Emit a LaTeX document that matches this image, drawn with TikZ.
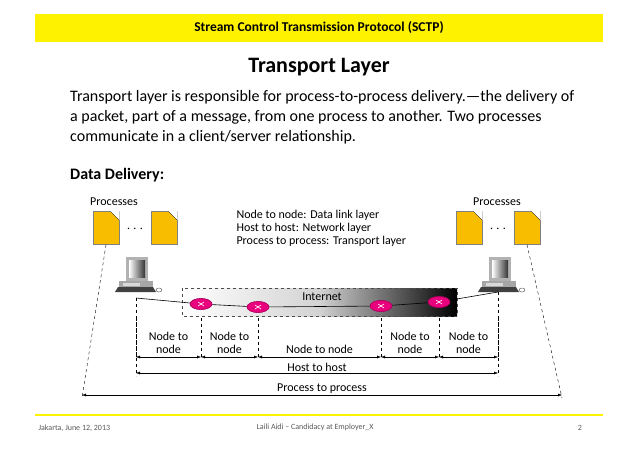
\documentclass[tikz,border=0pt]{standalone}
\usepackage{fontspec}
\setmainfont{Carlito}
\usetikzlibrary{arrows.meta,positioning,shapes.geometric}
\definecolor{slideyellow}{HTML}{FFF200}
\definecolor{docyellow}{HTML}{F9BD00}
\definecolor{routerpink}{HTML}{E8007D}

\begin{document}
\begin{tikzpicture}[
    x = 1pt, y = -1pt,
    >= {Latex[length=4pt,width=3pt]},
    doc/.style = {draw = gray, fill = docyellow, minimum width = 26pt, minimum height = 33pt, inner sep = 0pt},
    router/.style = {ellipse, draw = routerpink!70!black, fill = routerpink, minimum width = 22pt, minimum height = 11pt, inner sep = 0pt},
    lbl/.style = {font = \fontsize{12}{13}\selectfont, align = center},
    vdash/.style = {dashed, thin},
    span/.style = {<->, thin}
    ]
    \useasboundingbox (0,0) rectangle (638,451);

    % header and footer
    \fill[slideyellow] (35,14) rectangle (603,42);
    \node[font = \bfseries\fontsize{13.5}{15}\selectfont] (head) at (319,28) {Stream Control Transmission Protocol (SCTP)};
    \node[font = \bfseries\fontsize{22}{24}\selectfont] (title) at (319,67) {Transport Layer};
    \node[anchor = north west, align = left, font = \fontsize{16}{20}\selectfont, inner sep = 0pt] (para) at (70,90)
      {Transport layer is responsible for process-to-process delivery.—the delivery of\\
       a packet, part of a message, from one process to another. Two processes\\
       communicate in a client/server relationship.};
    \node[anchor = west, font = \bfseries\fontsize{16}{18}\selectfont, inner sep = 0pt] (dd) at (70,175) {Data Delivery:};
    \draw[slideyellow, line width = 2pt] (35,415) -- (603,415);
    \node[anchor = west, font = \fontsize{8}{9}\selectfont, text = gray!70!black] (date) at (35,428) {Jakarta, June 12, 2013};
    \node[font = \fontsize{8}{9}\selectfont, text = gray!70!black] (who) at (315,427) {Laili Aidi – Candidacy at Employer\_X};
    \node[font = \fontsize{8}{9}\selectfont, text = gray!70!black] (page) at (580,428) {2};

    % processes
    \foreach \n/\x in {d1/106, d2/164, d3/469, d4/527} {
      \node[doc] (\n) at (\x,228) {};
      \fill[black] (\n.north east) ++(-9,0) -- ++(9,9) -- ++(0,-9) -- cycle;
      \fill[white] (\n.north east) ++(-9,-0.5) -- ++(9.5,0) -- ++(0,9.5) -- cycle;
    }
    \node[lbl] (pl) at (114,202) {Processes};
    \node[lbl] (pr) at (497,202) {Processes};
    \node[font = \Large\bfseries] (dl) at (135,229) {$\cdots$};
    \node[font = \Large\bfseries] (dr) at (498,229) {$\cdots$};

    \node[lbl, anchor = west, align = left] (legend) at (233,228)
      {Node to node: Data link layer\\ Host to host: Network layer\\ Process to process: Transport layer};

    % computers
    \foreach \n/\x in {pc1/140, pc2/503} {
      \coordinate (\n) at (\x,292);
      \fill[gray!60] (\x-14,257) rectangle (\x+8,281);
      \shade[left color = white, right color = gray!40!black] (\x-11,260) rectangle (\x+5,277);
      \fill[gray!70] (\x-21,281) rectangle (\x+13,287);
      \fill[gray!30] (\x-17,282.5) rectangle (\x,285.5);
      \fill[gray!50!black] (\x-22,287) -- (\x+13,287) -- (\x+16,292) -- (\x-25,292) -- cycle;
      \draw[gray!60!black] (\x+19,290) ellipse (3 and 2);
    }
    \coordinate (h1) at (136,298);
    \coordinate (h2) at (498,292);

    % internet
    \shade[left color = white, right color = black, middle color = gray!35] (182,288) rectangle (457,316);
    \draw[dashed, thick, gray!60!black] (182,288) rectangle (457,316);
    \node[lbl] (inet) at (322,297) {Internet};
    \node[router] (r1) at (201,304) {};
    \node[router] (r2) at (258,307) {};
    \node[router] (r3) at (381,306) {};
    \node[router] (r4) at (439,302) {};
    \draw[semithick] (h1) -- (r1) -- (r2) -- (r3) -- (r4) -- (h2);
    \foreach \r in {r1,r2,r3,r4} {
      \node[router] at (\r) {};
      \draw[white, semithick] (\r.center) ++(-3,-2) -- ++(6,4) ++(0,-4) -- ++(-6,4);
    }

    % vertical guides
    \draw[vdash] (h1) -- (136,376);
    \draw[vdash] (h2) -- (498,376);
    \foreach \c/\x in {h1/136, r1/201, r2/258, r3/381, r4/439, h2/498} {
      \coordinate (b\c) at (\x,318);
      \coordinate (e\c) at (\x,357);
      \draw[vdash] (b\c) -- (e\c);
    }
    \draw[vdash] (d1.south) -- (82,398);
    \draw[vdash] (d4.south) -- (562,398);

    % spans
    \draw[span] (eh1) -- node[lbl, above] {Node to\\ node} (er1);
    \draw[span] (er1) -- node[lbl, above] {Node to\\ node} (er2);
    \draw[span] (er2) -- node[lbl, above] {Node to node} (er3);
    \draw[span] (er3) -- node[lbl, above] {Node to\\ node} (er4);
    \draw[span] (er4) -- node[lbl, above] {Node to\\ node} (eh2);
    \coordinate (hh1) at (136,373);
    \coordinate (hh2) at (498,373);
    \draw[span] (hh1) -- node[lbl, above, inner sep = 1.5pt] {Host to host} (hh2);
    \coordinate (pp1) at (82,395);
    \coordinate (pp2) at (562,395);
    \draw[span] (pp1) -- node[lbl, above, inner sep = 1.5pt] {Process to process} (pp2);
\end{tikzpicture}
\end{document}
